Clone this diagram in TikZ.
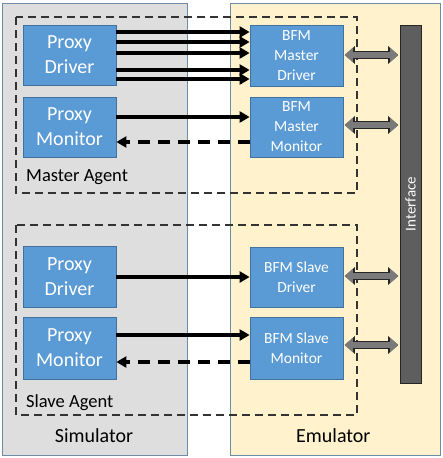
\documentclass[tikz,border=0pt]{standalone}
\usepackage{fontspec}
\setmainfont{Carlito}
\usetikzlibrary{arrows.meta}
\definecolor{boxblue}{HTML}{5B9BD5}
\definecolor{boxedge}{HTML}{41719C}
\definecolor{simfill}{HTML}{DEDEDE}
\definecolor{emufill}{HTML}{FFF2CC}
\definecolor{frameedge}{HTML}{6F8CA6}
\definecolor{ifill}{HTML}{5E5E5E}
\definecolor{dagray}{HTML}{7A7A7A}
\tikzset{
  region/.style={draw=frameedge, line width=1pt},
  agentbox/.style={draw=black!80, line width=1.3pt, dash pattern=on 8pt off 5pt},
  proxybox/.style={rectangle, fill=boxblue, draw=boxedge, line width=0.8pt, text=white,
    minimum width=93pt, inner sep=0pt, align=center, font=\fontsize{20}{25}\selectfont},
  bfmbox/.style={proxybox, font=\fontsize{15.5}{20}\selectfont},
  sig/.style={line width=3.6pt, -{Triangle[length=10pt,width=11pt]}},
  dsig/.style={sig, dash pattern=on 12pt off 8pt},
  fat/.style={line width=5.5pt, draw=dagray, {Triangle[length=8pt,width=14pt]}-{Triangle[length=8pt,width=14pt]},
    shorten <=1.4pt, shorten >=1.4pt,
    preaction={draw=black!85, line width=8pt, {Triangle[length=10pt,width=17pt]}-{Triangle[length=10pt,width=17pt]}}},
  lbl/.style={font=\fontsize{18.5}{22}\selectfont, inner sep=0pt}
}
\begin{document}
\begin{tikzpicture}[x=1pt,y=-1pt]
\useasboundingbox (0,0) rectangle (443,458);
\fill[white] (0,0) rectangle (443,458);
% regions
\filldraw[region, fill=simfill] (2,3) rectangle (187,455);
\filldraw[region, fill=emufill] (230,3) rectangle (440,455);
% agent boxes
\draw[agentbox] (16,17) rectangle (357,193);
\draw[agentbox] (16,225) rectangle (357,415);
% nodes
\node[proxybox, minimum height=60pt] (pd1) at (69.5,55) {Proxy\\Driver};
\node[proxybox, minimum height=60pt] (pm1) at (69.5,127) {Proxy\\Monitor};
\node[bfmbox, minimum height=61pt] (bd1) at (296.5,55.5) {BFM\\Master\\Driver};
\node[bfmbox, minimum height=60pt] (bm1) at (296.5,127) {BFM\\Master\\Monitor};
\node[proxybox, minimum height=61pt] (pd2) at (69.5,276.5) {Proxy\\Driver};
\node[proxybox, minimum height=62pt] (pm2) at (69.5,348) {Proxy\\Monitor};
\node[bfmbox, minimum height=60pt] (bd2) at (296.5,277) {BFM Slave\\Driver};
\node[bfmbox, minimum height=62pt] (bm2) at (296.5,348) {BFM Slave\\Monitor};
\node[rectangle, fill=ifill, draw=black!85, line width=0.8pt, minimum width=21pt, minimum height=358pt, inner sep=0pt] (iface) at (410.5,204) {};
\node[rotate=90, text=white, font=\fontsize{15}{18}\selectfont] (ilbl) at (iface.center) {Interface};
% labels
\node[lbl, anchor=base west] (ma) at (26,181) {Master Agent};
\node[lbl, anchor=base west] (sa) at (26,407) {Slave Agent};
\node[font=\fontsize{20}{24}\selectfont, inner sep=0pt, anchor=base] (sim) at (94,442) {Simulator};
\node[font=\fontsize{20}{24}\selectfont, inner sep=0pt, anchor=base west] (emu) at (296,442) {Emulator};
% master arrows
\foreach \y in {32,42,53,70,79}{
  \draw[sig] (pd1.east |- 0,\y) -- (bd1.west |- 0,\y);
}
\draw[sig] (pm1.east |- 0,117) -- (bm1.west |- 0,117);
\draw[dsig] (bm1.west |- 0,142) -- (pm1.east |- 0,142);
% slave arrows
\draw[sig] (pd2.east |- 0,277) -- (bd2.west |- 0,277);
\draw[sig] (pm2.east |- 0,335) -- (bm2.west |- 0,335);
\draw[dsig] (bm2.west |- 0,362) -- (pm2.east |- 0,362);
% interface arrows
\draw[fat] (bd1.east |- 0,55) -- (iface.west |- 0,55);
\draw[fat] (bm1.east |- 0,125) -- (iface.west |- 0,125);
\draw[fat] (bd2.east |- 0,276) -- (iface.west |- 0,276);
\draw[fat] (bm2.east |- 0,345) -- (iface.west |- 0,345);
\end{tikzpicture}
\end{document}
